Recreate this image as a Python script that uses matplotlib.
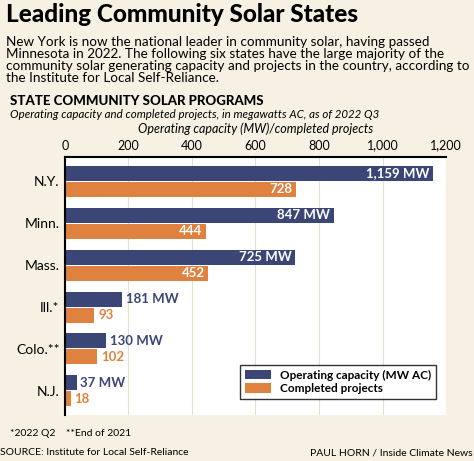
import matplotlib.pyplot as plt
import numpy as np

states = ['N.Y.', 'Minn.', 'Mass.', 'Ill.*', 'Colo.**', 'N.J.']
capacity = [1159, 847, 725, 181, 130, 37]
projects = [728, 444, 452, 93, 102, 18]

NAVY = '#3b4677'
ORANGE = '#e0823f'
BG = '#f6f1e2'
plt.rcParams['font.family'] = ['Lato', 'DejaVu Sans']

fig = plt.figure(figsize=(4.74, 4.61), dpi=100, facecolor=BG)
ax = fig.add_axes([0.137, 0.10, 0.804, 0.559])

y = np.arange(len(states)) * 42.0
h = 15
ax.barh(y - 8, capacity, height=h, color=NAVY, label='Operating capacity (MW AC)')
ax.barh(y + 8, projects, height=h, color=ORANGE, label='Completed projects')

# etiquetas de valores
for yi, c, p in zip(y, capacity, projects):
    if c > 400:
        ax.text(c - 12, yi - 8, f'{c:,} MW', color='white', ha='right', va='center', fontsize=9.5, fontweight='bold')
    else:
        ax.text(c + 12, yi - 8, f'{c:,} MW', color=NAVY, ha='left', va='center', fontsize=9.5, fontweight='bold')
    if p > 400:
        ax.text(p - 12, yi + 8, f'{p:,}', color='white', ha='right', va='center', fontsize=9.5, fontweight='bold')
    else:
        ax.text(p + 12, yi + 8, f'{p:,}', color=ORANGE, ha='left', va='center', fontsize=9.5, fontweight='bold')

ax.set_xlim(0, 1200)
ax.set_ylim(y[-1] + 24, y[0] - 24)
ax.set_yticks(y)
ax.set_yticklabels(states, fontsize=10)
ax.set_xticks([0, 200, 400, 600, 800, 1000, 1200])
ax.set_xticklabels(['0', '200', '400', '600', '800', '1,000', '1,200'], fontsize=9)
ax.xaxis.tick_top()
ax.xaxis.set_label_position('top')
ax.set_xlabel('Operating capacity (MW)/completed projects', style='italic', fontsize=9, labelpad=5)
ax.tick_params(length=0, pad=4)
ax.grid(axis='x', color='#e4e0d4', linewidth=0.8)
ax.set_axisbelow(True)
for s in ['right', 'bottom']:
    ax.spines[s].set_visible(False)
ax.spines['top'].set_linewidth(1.5)
ax.spines['left'].set_linewidth(1.5)

leg = ax.legend(loc='lower right', bbox_to_anchor=(0.99, 0.04), fontsize=8.5, frameon=True, fancybox=False,
                edgecolor='black', handlelength=2.2, handleheight=0.9, borderpad=0.4, labelspacing=0.2)
leg.get_frame().set_linewidth(1.0)
for t in leg.get_texts():
    t.set_fontweight('bold')

fig.text(0.013, 0.952, 'Leading Community Solar States', fontsize=17.5, fontweight='black')
fig.text(0.013, 0.823, 'New York is now the national leader in community solar, having passed\n'
         'Minnesota in 2022. The following six states have the large majority of the\n'
         'community solar generating capacity and projects in the country, according to\n'
         'the Institute for Local Self-Reliance.', fontsize=9.7, linespacing=0.98)
fig.text(0.022, 0.773, 'STATE COMMUNITY SOLAR PROGRAMS', fontsize=9.5, fontweight='black')
fig.text(0.022, 0.744, 'Operating capacity and completed projects, in megawatts AC, as of 2022 Q3',
         fontsize=8.3, style='italic')
fig.text(0.022, 0.055, '*2022 Q2    **End of 2021', fontsize=7.5)
fig.text(0.0, 0.012, 'SOURCE: Institute for Local Self-Reliance', fontsize=7.5)
fig.text(0.998, 0.012, 'PAUL HORN / Inside Climate News', fontsize=7.5, ha='right')

fig.savefig('out.png', dpi=100, facecolor=BG)
